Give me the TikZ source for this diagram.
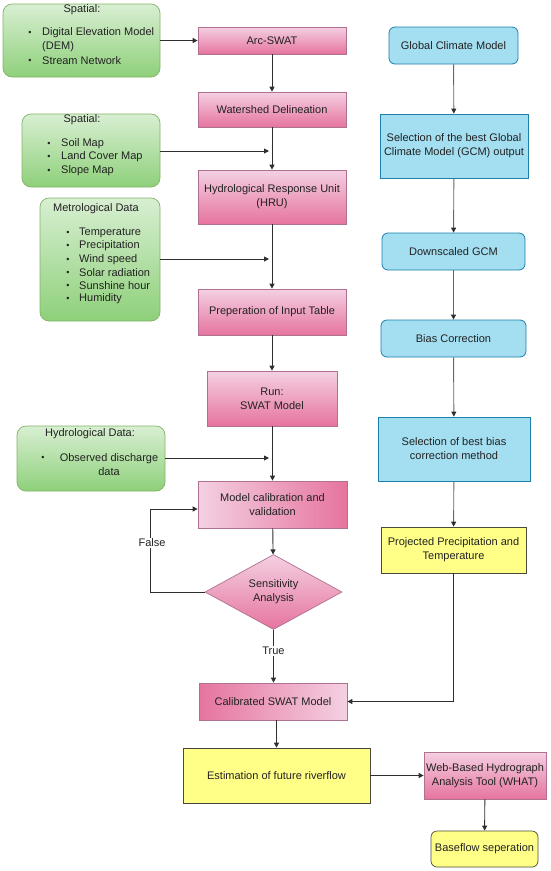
\documentclass[tikz,border=0pt]{standalone}
\usepackage{fontspec}
\setmainfont{Liberation Sans}
\usetikzlibrary{shapes.geometric,arrows.meta}
\definecolor{gtop}{HTML}{D8EFD2}
\definecolor{gbot}{HTML}{8ED07A}
\definecolor{gline}{HTML}{82B366}
\definecolor{ptop}{HTML}{F4D0E2}
\definecolor{pbot}{HTML}{E6749E}
\definecolor{pline}{HTML}{B0708F}
\definecolor{bfill}{HTML}{A3DEF1}
\definecolor{bline}{HTML}{1D80AA}
\definecolor{yfill}{HTML}{FFFF88}
\definecolor{yline}{HTML}{4A4A3A}
\definecolor{lcol}{HTML}{2E2E2E}
\definecolor{rcol}{HTML}{666666}
\definecolor{tcol}{HTML}{222222}
\begin{document}
\begin{tikzpicture}[x=1pt,y=-1pt,
  font=\fontsize{11}{14}\selectfont, text=tcol,
  pbox/.style={draw=pline, line width=0.7pt, top color=ptop, bottom color=pbot, align=center, inner sep=0pt},
  gbox/.style={draw=gline, line width=0.7pt, rounded corners=9pt, top color=gtop, bottom color=gbot, inner sep=0pt},
  bbox/.style={draw=bline, line width=0.8pt, fill=bfill, align=center, inner sep=0pt},
  ybox/.style={draw=yline, line width=0.7pt, fill=yfill, align=center, inner sep=0pt},
  arr/.style={-{Triangle[length=5pt,width=5pt]}, line width=0.9pt, draw=lcol},
  rarr/.style={-{Triangle[length=5pt,width=5pt,color=lcol]}, line width=0.9pt, draw=rcol},
  txt/.style={inner sep=0pt, anchor=west},
  bul/.style={inner sep=0pt, font=\fontsize{9}{10}\selectfont},
  lbl/.style={fill=white, inner sep=1pt}
]
\useasboundingbox (0,0) rectangle (550,871);

% green input boxes
\node[gbox, minimum width=157pt, minimum height=73pt] (sp1) at (81.5,40.5) {};
\node[inner sep=0pt] (sp1t) at (82,10) {Spatial:};
\node[bul] (sp1b1) at (30,33) {\textbullet};
\node[bul] (sp1b2) at (30,61) {\textbullet};
\node[txt] (sp1a) at (42,33) {Digital Elevation Model};
\node[txt] (sp1c) at (42,47) {(DEM)};
\node[txt] (sp1d) at (42,61) {Stream Network};

\node[gbox, minimum width=138pt, minimum height=73pt] (sp2) at (91,150.5) {};
\node[inner sep=0pt] (sp2t) at (82,120) {Spatial:};
\node[bul] (sp2b1) at (49,144) {\textbullet};
\node[bul] (sp2b2) at (49,157) {\textbullet};
\node[bul] (sp2b3) at (49,171) {\textbullet};
\node[txt] (sp2a) at (61,144) {Soil Map};
\node[txt] (sp2c) at (61,157) {Land Cover Map};
\node[txt] (sp2d) at (61,171) {Slope Map};

\node[gbox, minimum width=120pt, minimum height=123pt] (met) at (100,259.5) {};
\node[inner sep=0pt] (mett) at (96,209) {Metrological Data};
\foreach \yy/\tt [count=\i] in {233/Temperature,246/Precipitation,260/Wind speed,273/Solar radiation,286/Sunshine hour,299/Humidity}{
  \node[bul] (metb\i) at (68,\yy) {\textbullet};
  \node[txt] (mett\i) at (79,\yy) {\tt};
}

\node[gbox, minimum width=148pt, minimum height=65pt] (hyd) at (91,458.5) {};
\node[inner sep=0pt] (hydt) at (90,434) {Hydrological Data:};
\node[bul] (hydb) at (43,458) {\textbullet};
\node[inner sep=0pt, align=center] (hyda) at (109,465) {Observed discharge\\data};

% main pink column
\node[pbox, minimum width=148pt, minimum height=27pt] (arc) at (272,40.5) {Arc-SWAT};
\node[pbox, minimum width=148pt, minimum height=35pt] (wat) at (272,109.5) {Watershed Delineation};
\node[pbox, minimum width=148pt, minimum height=54pt] (hru) at (272,197) {Hydrological Response Unit\\(HRU)};
\node[pbox, minimum width=148pt, minimum height=46pt] (prep) at (272,312) {Preperation of Input Table};
\node[pbox, minimum width=130pt, minimum height=55pt] (run) at (272,398.5) {Run:\\SWAT Model};
\node[pbox, left color=ptop, right color=pbot, minimum width=149pt, minimum height=47pt] (cal) at (272.5,504.5) {Model calibration and\\validation};
\node[diamond, draw=pline, line width=0.7pt, top color=ptop, bottom color=pbot, align=center, inner sep=0pt, aspect=1.83, minimum width=137pt, minimum height=75pt] (sens) at (273.5,592) {Sensitivity\\Analysis};
\node[pbox, left color=pbot, right color=ptop, minimum width=148pt, minimum height=37pt] (calsw) at (273,701.5) {Calibrated SWAT Model};
\node[ybox, minimum width=187pt, minimum height=55pt] (est) at (276.5,775.5) {Estimation of future riverflow};
\node[pbox, minimum width=122pt, minimum height=47pt] (what) at (485,775.5) {Web-Based Hydrograph\\Analysis Tool (WHAT)};
\node[ybox, rounded corners=6pt, minimum width=107pt, minimum height=36pt] (base) at (484.5,849) {Baseflow seperation};

% right blue column
\node[bbox, rounded corners=6pt, minimum width=129pt, minimum height=37pt] (gcm) at (453.5,45.5) {Global Climate Model};
\node[bbox, minimum width=148pt, minimum height=64pt] (selg) at (454,146) {Selection of the best Global\\Climate Model (GCM) output};
\node[bbox, rounded corners=6pt, minimum width=143pt, minimum height=37pt] (down) at (453.5,251.5) {Downscaled GCM};
\node[bbox, rounded corners=6pt, minimum width=145pt, minimum height=37pt] (bias) at (453.5,338.5) {Bias Correction};
\node[bbox, minimum width=152pt, minimum height=64pt] (selb) at (454,449) {Selection of best bias\\correction method};
\node[ybox, minimum width=145pt, minimum height=46pt] (proj) at (453.5,550) {Projected Precipitation and\\Temperature};

% junction points on the main line
\coordinate (j1) at (269,151);
\coordinate (j2) at (269,259);
\coordinate (j3) at (269,458);
\coordinate (fa) at (150,509);

% connectors left
\draw[arr] (sp1) -- (arc);
\draw[arr] (arc) -- (wat);
\draw[arr] (wat) -- (hru);
\draw[arr] (sp2.east |- j1) -- (j1);
\draw[arr] (hru) -- (prep);
\draw[arr] (met.east |- j2) -- (j2);
\draw[arr] (prep) -- (run);
\draw[arr] (hyd.east |- j3) -- (j3);
\draw[arr] (run.south -| cal.north) -- (cal.north);
\draw[arr] (cal) -- (sens);
\draw[arr] (sens.west) -| (fa) -- (cal.west |- fa);
\node[lbl] (flbl) at (152,543) {False};
\draw[arr] (sens.south) -- (calsw.north -| sens.south) node[lbl, pos=0.4] (tlbl) {True};
\draw[arr] (est.north |- calsw.south) -- (est.north);
\draw[arr] (est) -- (what);
\draw[arr] (what) -- (base);

% connectors right
\draw[rarr] (gcm) -- (selg);
\draw[rarr] (selg) -- (down);
\draw[rarr] (down) -- (bias);
\draw[rarr] (bias) -- (selb);
\draw[rarr] (selb) -- (proj);
\draw[arr] (proj.south) |- (calsw.east);
\end{tikzpicture}
\end{document}
